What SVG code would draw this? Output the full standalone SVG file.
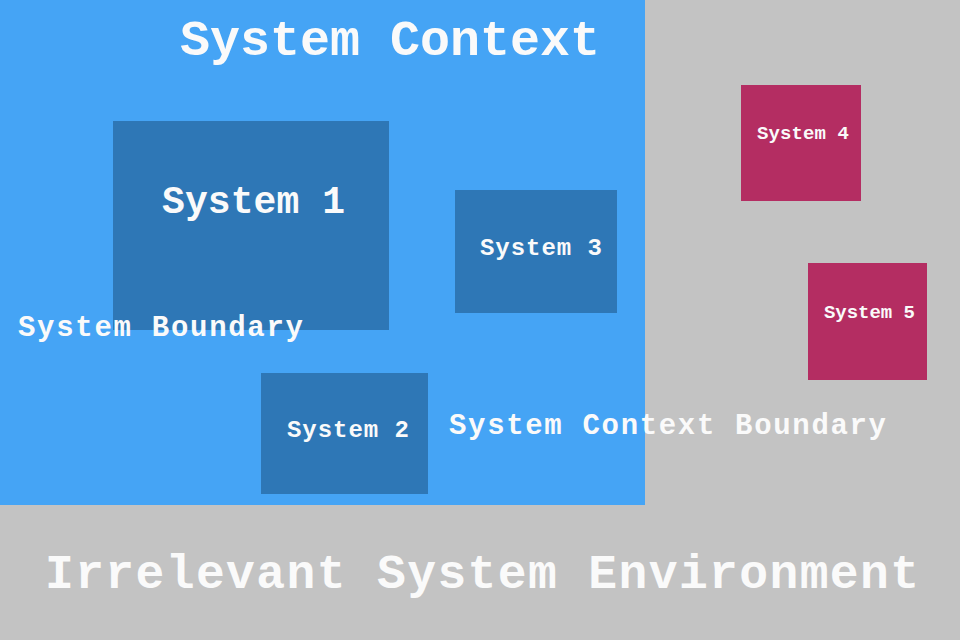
<svg xmlns="http://www.w3.org/2000/svg" width="960" height="640" viewBox="0 0 960 640">
<style>
  .t { font-family: "Liberation Mono", "DejaVu Sans Mono", monospace; font-weight: bold; fill: #FAFAFA; }
  .inner { fill: #2E77B6; }
  .outer { fill: #B42D62; }
</style>
<rect x="0" y="0" width="960" height="640" fill="#C3C3C3"/>
<g id="system-context">
  <rect x="0" y="0" width="645" height="505" fill="#45A4F5"/>
  <text class="t" x="180" y="55" font-size="50" textLength="420" lengthAdjust="spacing">System Context</text>
</g>
<g id="system-1">
  <rect class="inner" x="113" y="121" width="276" height="209"/>
  <text class="t" x="162" y="213" font-size="38" textLength="183" lengthAdjust="spacing">System 1</text>
</g>
<g id="system-3">
  <rect class="inner" x="455" y="190" width="162" height="123"/>
  <text class="t" x="480" y="255" font-size="24" textLength="122" lengthAdjust="spacing">System 3</text>
</g>
<g id="system-2">
  <rect class="inner" x="261" y="373" width="167" height="121"/>
  <text class="t" x="287" y="437" font-size="24" textLength="122" lengthAdjust="spacing">System 2</text>
</g>
<g id="system-4">
  <rect class="outer" x="741" y="85" width="120" height="116"/>
  <text class="t" x="757" y="139" font-size="19" textLength="92" lengthAdjust="spacing">System 4</text>
</g>
<g id="system-5">
  <rect class="outer" x="808" y="263" width="119" height="117"/>
  <text class="t" x="824" y="318" font-size="19" textLength="91" lengthAdjust="spacing">System 5</text>
</g>
<g id="labels">
  <text class="t" x="18" y="336" font-size="29" textLength="285" lengthAdjust="spacing">System Boundary</text>
  <text class="t" x="449" y="434" font-size="29" textLength="437" lengthAdjust="spacing">System Context Boundary</text>
  <text class="t" x="45" y="588" font-size="48" textLength="874" lengthAdjust="spacing">Irrelevant System Environment</text>
</g>
<g id="connectors"></g>
</svg>
